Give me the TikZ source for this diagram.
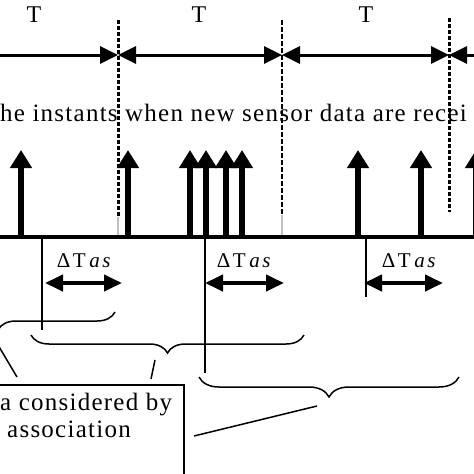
\documentclass[tikz,border=0pt]{standalone}
\usepackage{fontspec}
\setmainfont{Liberation Serif}
\newfontfamily\spacedfont[LetterSpace=5]{Liberation Serif}
\newfontfamily\deltafont[LetterSpace=12]{Liberation Serif}
\usetikzlibrary{arrows.meta,decorations.pathreplacing}
\begin{document}
\begin{tikzpicture}[x=1pt,y=-1pt,
  period/.style={line width=3pt,{Triangle[length=18pt,width=17pt]}-{Triangle[length=18pt,width=17pt]}},
  periodR/.style={line width=3pt,-{Triangle[length=18pt,width=17pt]}},
  periodL/.style={line width=3pt,{Triangle[length=18pt,width=17pt]}-},
  sensor/.style={line width=6.5pt,-{Triangle[length=18pt,width=21pt]}},
  window/.style={line width=4pt,{Triangle[length=18pt,width=16pt]}-{Triangle[length=18pt,width=16pt]}},
  thickdash/.style={line width=3pt,dash pattern=on 4pt off 2pt},
  thindash/.style={line width=1.8pt,dash pattern=on 5pt off 2pt},
  greyend/.style={line width=2.5pt,black!25},
  thin/.style={line width=1.5pt},
  bracestyle/.style={line width=1.5pt,decorate,decoration={brace,mirror,amplitude=#1}},
  lbl/.style={inner sep=0pt,anchor=base},
  txt/.style={inner sep=0pt,anchor=base west,font=\fontsize{25}{30}\spacedfont},
  boxtxt/.style={inner sep=0pt,anchor=base west,font=\fontsize{25}{30}\spacedfont}
]
\useasboundingbox (0,0) rectangle (474,474);
\clip (0,0) rectangle (474,474);

% period labels
\node[lbl,font=\fontsize{24}{28}\selectfont] (T1) at (34,22) {T};
\node[lbl,font=\fontsize{24}{28}\selectfont] (T2) at (199,22) {T};
\node[lbl,font=\fontsize{24}{28}\selectfont] (T3) at (366,22) {T};

% caption line
\node[txt] (cap) at (0,121) {he instants when new sensor data are recei};

% top time line
\coordinate (L) at (-5,55);
\coordinate (D1) at (118,55);
\coordinate (D2) at (282,55);
\coordinate (D3) at (449,55);
\coordinate (R) at (480,55);
\draw[periodR] (L) -- (D1);
\draw[period] (D1) -- (D2);
\draw[period] (D2) -- (D3);
\draw[periodL] (D3) -- (R);

% dashed period boundaries
\coordinate (d1t) at (118,20); \coordinate (d1m) at (118,217); \coordinate (d1b) at (118,237);
\coordinate (d2t) at (282,20); \coordinate (d2m) at (282,215); \coordinate (d2b) at (282,237);
\coordinate (d3t) at (449,18); \coordinate (d3b) at (449,212);
\draw[thickdash] (d1t) -- (d1m);
\draw[greyend] (d1m) -- (d1b);
\draw[thindash] (d2t) -- (d2m);
\draw[line width=1.5pt,black!25] (d2m) -- (d2b);
\draw[thickdash] (d3t) -- (d3b);

% baseline
\coordinate (BL) at (-5,237);
\coordinate (BR) at (480,237);
\draw[line width=3.5pt] (BL) -- (BR);

% sensor data arrivals
\foreach \i/\x in {1/21,2/128,3/190,4/206,5/226,6/242,7/358,8/421,9/476} {
  \coordinate (b\i) at (\x,237);
  \coordinate (t\i) at (\x,150);
  \draw[sensor] (b\i) -- (t\i);
}

% association windows
\coordinate (v1t) at (42,237);  \coordinate (v1b) at (42,330);
\coordinate (v2t) at (205,237); \coordinate (v2b) at (205,373);
\coordinate (v3t) at (366,237); \coordinate (v3b) at (366,297);
\draw[thin] (v1t) -- (v1b);
\draw[thin] (v2t) -- (v2b);
\draw[thin] (v3t) -- (v3b);

\node[lbl,font=\fontsize{21}{24}\deltafont] (dt1) at (85,267) {ΔT\,\textit{as}};
\node[lbl,font=\fontsize{21}{24}\deltafont] (dt2) at (245,267) {ΔT\,\textit{as}};
\node[lbl,font=\fontsize{21}{24}\deltafont] (dt3) at (410,267) {ΔT\,\textit{as}};

\coordinate (w1a) at (45,283);  \coordinate (w1b) at (122,283);
\coordinate (w2a) at (205,283); \coordinate (w2b) at (284,283);
\coordinate (w3a) at (364,283); \coordinate (w3b) at (443,283);
\draw[window] (w1a) -- (w1b);
\draw[window] (w2a) -- (w2b);
\draw[window] (w3a) -- (w3b);

% braces
\coordinate (br1a) at (-119,312); \coordinate (br1b) at (115,312);
\coordinate (br2a) at (31,335);   \coordinate (br2b) at (304,335);
\coordinate (br3a) at (199,377);  \coordinate (br3b) at (459,377);
\draw[bracestyle=18pt] (br1a) -- (br1b);
\draw[bracestyle=18pt] (br2a) -- (br2b);
\draw[bracestyle=20pt] (br3a) -- (br3b);

% box
\node[draw,line width=1.5pt,minimum width=189pt,minimum height=95pt,inner sep=0pt] (box) at (89.5,432.5) {};
\node[boxtxt] (bt1) at (0,410) {a considered by};
\node[boxtxt] (bt2) at (7,437) {association};

% pointers
\coordinate (p1a) at (-2,345);  \coordinate (p1b) at (17,377);
\coordinate (p2a) at (155,360); \coordinate (p2b) at (151,379);
\coordinate (p3a) at (317,406); \coordinate (p3b) at (194,436);
\draw[thin] (p1a) -- (p1b);
\draw[thin] (p2a) -- (p2b);
\draw[thin] (p3a) -- (p3b);
\end{tikzpicture}
\end{document}
